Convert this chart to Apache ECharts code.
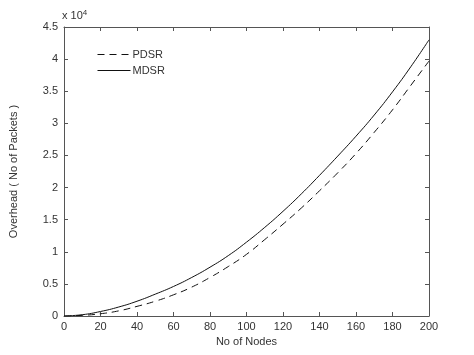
<!DOCTYPE html>
<html>
<head>
<meta charset="utf-8">
<script src="https://cdn.jsdelivr.net/npm/echarts@6/dist/echarts.min.js"></script>
<style>
  html, body { margin: 0; padding: 0; background: #fff; }
  #chart { width: 474px; height: 355px; }
</style>
</head>
<body>
<div id="chart"></div>
<script>
// number of nodes
var nodes = [0, 10, 20, 30, 40, 50, 60, 70, 80, 90, 100, 110, 120, 130, 140, 150, 160, 170, 180, 190, 200];
// overhead (packets)
var pdsr = [0, 100, 350, 800, 1500, 2300, 3300, 4500, 6000, 7700, 9600, 11900, 14300, 16800, 19500, 22300, 25300, 28600, 32100, 35900, 39700];
var mdsr = [0, 200, 700, 1400, 2300, 3400, 4600, 6000, 7600, 9400, 11500, 13800, 16300, 19000, 21900, 24900, 28000, 31300, 34900, 38800, 43000];

var yTicks = [0, 0.5, 1, 1.5, 2, 2.5, 3, 3.5, 4, 4.5];

var textColor = '#333';
var frameColor = '#555';
var font = 'Liberation Sans';

function pairs(xs, ys) {
    return xs.map(function (x, i) { return [x, ys[i]]; });
}

var chart = echarts.init(document.getElementById('chart'));

var axisCommon = {
    axisLine: {show: true, onZero: false, lineStyle: {color: frameColor, width: 1}},
    axisTick: {show: true, inside: true, length: 4, lineStyle: {color: frameColor}},
    splitLine: {show: false}
};

var option = {
    animation: false,
    backgroundColor: '#fff',
    textStyle: {fontFamily: font},
    grid: {left: 62, right: 45, top: 27, bottom: 39},
    legend: {
        left: 92,
        top: 44,
        orient: 'vertical',
        itemWidth: 33,
        itemHeight: 10,
        itemGap: 5,
        itemStyle: {opacity: 0},
        lineStyle: {width: 1},
        textStyle: {color: textColor, fontSize: 11, fontFamily: font, padding: [0, 0, 0, -3]},
        data: ['PDSR', 'MDSR']
    },
    graphic: [{
        type: 'text',
        left: 62,
        top: 9,
        style: {
            text: 'x 10{s|4}',
            fill: textColor,
            font: '11px ' + font,
            rich: {s: {fontSize: 8, verticalAlign: 'top', padding: [0, 0, 6, 0], fill: textColor}}
        }
    }],
    xAxis: [
        Object.assign({
            type: 'value',
            min: 0, max: 200, interval: 20,
            name: 'No of Nodes',
            nameLocation: 'middle',
            nameGap: 18,
            nameTextStyle: {color: textColor, fontSize: 11, fontFamily: font},
            axisLabel: {color: textColor, fontSize: 11, margin: 5}
        }, axisCommon),
        Object.assign({
            type: 'value',
            position: 'top',
            min: 0, max: 200, interval: 20,
            axisLabel: {show: false}
        }, axisCommon)
    ],
    yAxis: [
        Object.assign({
            type: 'value',
            min: 0, max: 45000, interval: 5000,
            name: 'Overhead ( No of Packets )',
            nameLocation: 'middle',
            nameGap: 45,
            nameTextStyle: {color: textColor, fontSize: 11, fontFamily: font},
            axisLabel: {
                color: textColor, fontSize: 11, margin: 6,
                formatter: function (v) { return String(yTicks[Math.round(v / 5000)]); }
            }
        }, axisCommon),
        Object.assign({
            type: 'value',
            position: 'right',
            min: 0, max: 45000, interval: 5000,
            axisLabel: {show: false}
        }, axisCommon)
    ],
    series: [
        {
            name: 'PDSR',
            type: 'line',
            smooth: true,
            symbol: 'none',
            data: pairs(nodes, pdsr),
            lineStyle: {color: '#111', width: 1, type: [7, 5]},
            itemStyle: {color: '#111'}
        },
        {
            name: 'MDSR',
            type: 'line',
            smooth: true,
            symbol: 'none',
            data: pairs(nodes, mdsr),
            lineStyle: {color: '#111', width: 1},
            itemStyle: {color: '#111'}
        }
    ]
};

chart.setOption(option);
</script>
</body>
</html>
